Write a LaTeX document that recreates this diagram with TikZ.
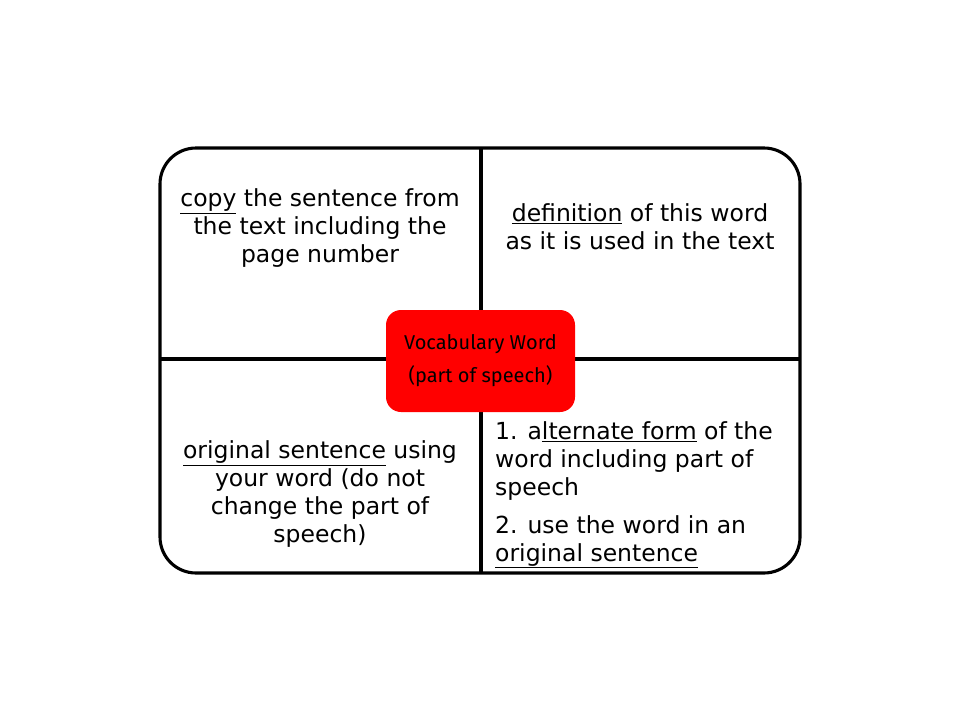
\documentclass[tikz,border=0pt]{standalone}
\usepackage{fontspec}
\setmainfont{DejaVu Sans}
\newfontfamily\centerfont{Fira Sans}
\begin{document}
\begin{tikzpicture}[x=1pt,y=-1pt,
  celltext/.style={font=\fontsize{23.5}{28}\selectfont, align=center, inner sep=0pt},
  lefttext/.style={font=\fontsize{23.5}{28}\selectfont, align=left, inner sep=0pt, anchor=north west},
  frame/.style={line width=3.1pt, rounded corners=36pt},
  divider/.style={line width=3.1pt}]
\useasboundingbox (0,0) rectangle (960,720);
\draw[frame] (160,148) rectangle (800,573);
\coordinate (vt) at (481,148);
\coordinate (vb) at (481,573);
\coordinate (hl) at (160,359);
\coordinate (hr) at (800,359);
\draw[divider] (vt) -- (vb);
\draw[divider] (hl) -- (hr);
\node[fill=red, rounded corners=15pt, minimum width=189pt, minimum height=102pt, inner sep=0pt,
  align=center, font=\centerfont\fontsize{20}{33}\selectfont] (center) at (480.5,361)
  {Vocabulary Word\\(part of speech)};
\node[celltext] (tl) at (320,228) {\underline{copy} the sentence from\\the text including the\\page number};
\node[celltext] (tr) at (640,227) {\underline{definition} of this word\\as it is used in the text};
\node[celltext] (bl) at (320,494) {\underline{original sentence} using\\your word (do not\\change the part of\\speech)};
\node[lefttext] (br1) at (495,421) {1. a\underline{lternate form} of the\\word including part of\\speech};
\node[lefttext] (br2) at (495,515) {2. use the word in an\\\underline{original sentence}};
\end{tikzpicture}
\end{document}
